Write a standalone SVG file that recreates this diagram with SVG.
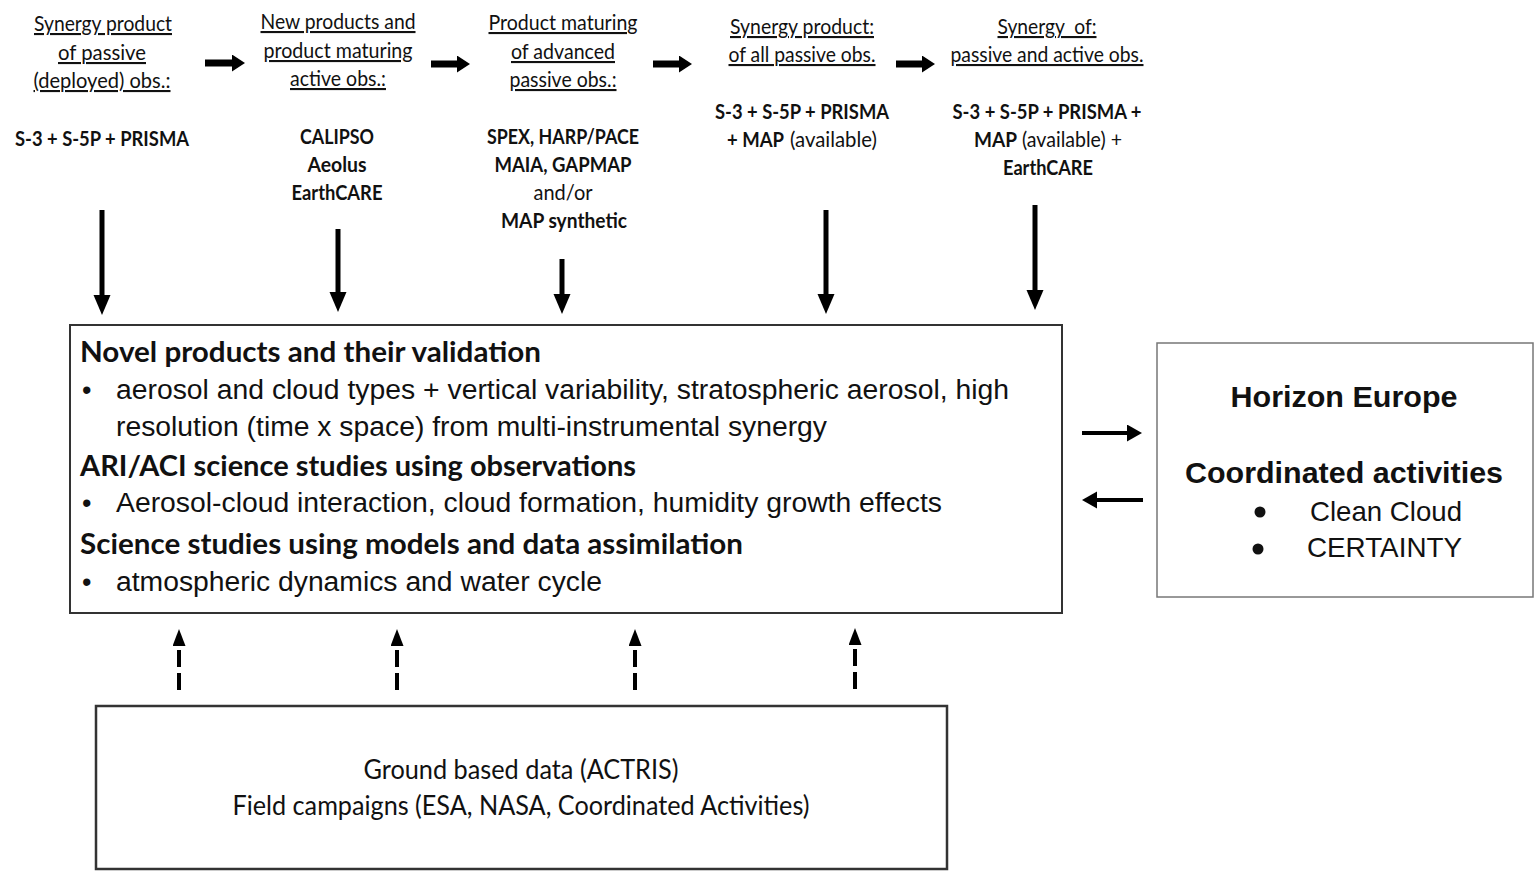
<svg xmlns="http://www.w3.org/2000/svg" width="1535" height="879" viewBox="0 0 1535 879">
<defs>
<style>
.c{font-family:Lato,"Open Sans","Liberation Sans",sans-serif;fill:#111;}
.cb{font-family:Lato,"Open Sans","Liberation Sans",sans-serif;fill:#111;font-weight:bold;}
.a{font-family:"Liberation Sans",Arial,sans-serif;fill:#111;}
.ab{font-family:"Liberation Sans",Arial,sans-serif;fill:#111;font-weight:bold;}
.u{text-decoration:underline;}
.hdr{font-size:21px;}
.box{fill:#fff;}
.ln{stroke:#000;fill:none;}
</style>
<marker id="hTop" markerUnits="userSpaceOnUse" markerWidth="14" markerHeight="18" refX="0" refY="8.5" orient="auto"><path d="M0,0 L13,8.5 L0,17 z" fill="#000"/></marker>
<marker id="hV" markerUnits="userSpaceOnUse" markerWidth="21" markerHeight="18" refX="0" refY="8.5" orient="auto"><path d="M0,0 L20,8.5 L0,17 z" fill="#000"/></marker>
<marker id="hS" markerUnits="userSpaceOnUse" markerWidth="16" markerHeight="18" refX="0" refY="8.5" orient="auto"><path d="M0,0 L15,8.5 L0,17 z" fill="#000"/></marker>
<marker id="hD" markerUnits="userSpaceOnUse" markerWidth="18" markerHeight="14" refX="0" refY="6.5" orient="auto"><path d="M0,0 L17,6.5 L0,13 z" fill="#000"/></marker>
</defs>
<rect width="1535" height="879" fill="#fff"/>

<g id="col1">
<text class="c hdr u" x="103" y="31" text-anchor="middle" textLength="138" lengthAdjust="spacingAndGlyphs">Synergy product</text>
<text class="c hdr u" x="102" y="60" text-anchor="middle" textLength="88" lengthAdjust="spacingAndGlyphs"> of passive</text>
<text class="c hdr u" x="102" y="88" text-anchor="middle" textLength="137" lengthAdjust="spacingAndGlyphs">(deployed) obs.:</text>
<text class="cb hdr" x="102" y="146" text-anchor="middle" textLength="174" lengthAdjust="spacingAndGlyphs">S-3 + S-5P + PRISMA</text>
</g>

<g id="col2">
<text class="c hdr u" x="338" y="29" text-anchor="middle" textLength="155" lengthAdjust="spacingAndGlyphs">New products and</text>
<text class="c hdr u" x="338" y="58" text-anchor="middle" textLength="149" lengthAdjust="spacingAndGlyphs">product maturing</text>
<text class="c hdr u" x="338" y="86" text-anchor="middle" textLength="96" lengthAdjust="spacingAndGlyphs">active obs.:</text>
<text class="cb hdr" x="337" y="144" text-anchor="middle" textLength="74" lengthAdjust="spacingAndGlyphs">CALIPSO</text>
<text class="cb hdr" x="337" y="172" text-anchor="middle" textLength="59" lengthAdjust="spacingAndGlyphs">Aeolus</text>
<text class="cb hdr" x="337" y="200" text-anchor="middle" textLength="91" lengthAdjust="spacingAndGlyphs">EarthCARE</text>
</g>

<g id="col3">
<text class="c hdr u" x="563" y="30" text-anchor="middle" textLength="149" lengthAdjust="spacingAndGlyphs">Product maturing</text>
<text class="c hdr u" x="563" y="59" text-anchor="middle" textLength="104" lengthAdjust="spacingAndGlyphs">of advanced</text>
<text class="c hdr u" x="563" y="87" text-anchor="middle" textLength="107" lengthAdjust="spacingAndGlyphs">passive obs.:</text>
<text class="cb hdr" x="563" y="144" text-anchor="middle" textLength="152" lengthAdjust="spacingAndGlyphs">SPEX, HARP/PACE</text>
<text class="cb hdr" x="563" y="172" text-anchor="middle" textLength="137" lengthAdjust="spacingAndGlyphs">MAIA, GAPMAP</text>
<text class="c hdr" x="563" y="200" text-anchor="middle" textLength="59" lengthAdjust="spacingAndGlyphs">and/or</text>
<text class="cb hdr" x="564" y="228" text-anchor="middle" textLength="126" lengthAdjust="spacingAndGlyphs">MAP synthetic</text>
</g>

<g id="col4">
<text class="c hdr u" x="802" y="34" text-anchor="middle" textLength="144" lengthAdjust="spacingAndGlyphs">Synergy product:</text>
<text class="c hdr u" x="802" y="62" text-anchor="middle" textLength="147" lengthAdjust="spacingAndGlyphs">of all passive obs.</text>
<text class="cb hdr" x="802" y="119" text-anchor="middle" textLength="174" lengthAdjust="spacingAndGlyphs">S-3 + S-5P + PRISMA</text>
<text class="cb hdr" x="727" y="147" textLength="57" lengthAdjust="spacingAndGlyphs">+ MAP</text>
<text class="c hdr" x="790" y="147" textLength="87" lengthAdjust="spacingAndGlyphs">(available)</text>
</g>

<g id="col5">
<text class="c hdr u" x="1047" y="34" text-anchor="middle" textLength="99" lengthAdjust="spacingAndGlyphs" xml:space="preserve">Synergy  of:</text>
<text class="c hdr u" x="1047" y="62" text-anchor="middle" textLength="193" lengthAdjust="spacingAndGlyphs">passive and active obs.</text>
<text class="cb hdr" x="1047" y="119" text-anchor="middle" textLength="189" lengthAdjust="spacingAndGlyphs">S-3 + S-5P + PRISMA +</text>
<text class="cb hdr" x="974" y="147" textLength="43" lengthAdjust="spacingAndGlyphs">MAP</text>
<text class="c hdr" x="1022" y="147" textLength="100" lengthAdjust="spacingAndGlyphs">(available) +</text>
<text class="cb hdr" x="1048" y="175" text-anchor="middle" textLength="90" lengthAdjust="spacingAndGlyphs">EarthCARE</text>
</g>

<g id="main">
<rect class="box" x="70" y="325" width="992" height="288" stroke="#333" stroke-width="2"/>
<text class="cb" x="80" y="362" font-size="29" textLength="461" lengthAdjust="spacingAndGlyphs">Novel products and their validation</text>
<text class="a" x="82" y="399" font-size="27">•</text>
<text class="a" x="116" y="399" font-size="27" textLength="893" lengthAdjust="spacingAndGlyphs">aerosol and cloud types + vertical variability, stratospheric aerosol, high</text>
<text class="a" x="116" y="436" font-size="27" textLength="711" lengthAdjust="spacingAndGlyphs">resolution (time x space) from multi-instrumental synergy</text>
<text class="cb" x="80" y="476" font-size="29" textLength="556" lengthAdjust="spacingAndGlyphs">ARI/ACI science studies using observations</text>
<text class="a" x="82" y="512" font-size="27">•</text>
<text class="a" x="116" y="512" font-size="27" textLength="826" lengthAdjust="spacingAndGlyphs">Aerosol-cloud interaction, cloud formation, humidity growth effects</text>
<text class="cb" x="80" y="554" font-size="29" textLength="663" lengthAdjust="spacingAndGlyphs">Science studies using models and data assimilation</text>
<text class="a" x="82" y="591" font-size="27">•</text>
<text class="a" x="116" y="591" font-size="27" textLength="486" lengthAdjust="spacingAndGlyphs">atmospheric dynamics and water cycle</text>
</g>

<g id="horizon">
<rect class="box" x="1157" y="343" width="376" height="254" stroke="#777" stroke-width="1.5"/>
<text class="ab" x="1344" y="407" font-size="30" text-anchor="middle" textLength="227" lengthAdjust="spacingAndGlyphs">Horizon Europe</text>
<text class="ab" x="1344" y="483" font-size="30" text-anchor="middle" textLength="318" lengthAdjust="spacingAndGlyphs">Coordinated activities</text>
<circle cx="1260" cy="512" r="5.5" fill="#111"/>
<text class="a" x="1310" y="521" font-size="27.5" textLength="152" lengthAdjust="spacingAndGlyphs">Clean Cloud</text>
<circle cx="1258" cy="549" r="5.5" fill="#111"/>
<text class="a" x="1307" y="557" font-size="27.5" textLength="155" lengthAdjust="spacingAndGlyphs">CERTAINTY</text>
</g>

<g id="ground">
<rect class="box" x="96" y="706" width="851" height="163" stroke="#333" stroke-width="2.5"/>
<text class="c" x="521" y="779" font-size="27" text-anchor="middle" textLength="315" lengthAdjust="spacingAndGlyphs" fill="#222">Ground based data (ACTRIS)</text>
<text class="c" x="521" y="815" font-size="27" text-anchor="middle" textLength="577" lengthAdjust="spacingAndGlyphs" fill="#222">Field campaigns (ESA, NASA, Coordinated Activities)</text>
</g>

<g id="connectors">
<line class="ln" x1="205" y1="63" x2="232" y2="63" stroke-width="7" marker-end="url(#hTop)"/>
<line class="ln" x1="431" y1="64" x2="457" y2="64" stroke-width="7" marker-end="url(#hTop)"/>
<line class="ln" x1="653" y1="64" x2="679" y2="64" stroke-width="7" marker-end="url(#hTop)"/>
<line class="ln" x1="896" y1="64" x2="922" y2="64" stroke-width="7" marker-end="url(#hTop)"/>

<line class="ln" x1="102" y1="210" x2="102" y2="295" stroke-width="5" marker-end="url(#hV)"/>
<line class="ln" x1="338" y1="229" x2="338" y2="292" stroke-width="5" marker-end="url(#hV)"/>
<line class="ln" x1="562" y1="259" x2="562" y2="294" stroke-width="5" marker-end="url(#hV)"/>
<line class="ln" x1="826" y1="210" x2="826" y2="294" stroke-width="5" marker-end="url(#hV)"/>
<line class="ln" x1="1035" y1="205" x2="1035" y2="290" stroke-width="5" marker-end="url(#hV)"/>

<line class="ln" x1="1082" y1="433" x2="1127" y2="433" stroke-width="4" marker-end="url(#hS)"/>
<line class="ln" x1="1143" y1="500" x2="1097" y2="500" stroke-width="4" marker-end="url(#hS)"/>

<line class="ln" x1="179" y1="690" x2="179" y2="646" stroke-width="4" stroke-dasharray="17 6" marker-end="url(#hD)"/>
<line class="ln" x1="397" y1="690" x2="397" y2="646" stroke-width="4" stroke-dasharray="17 6" marker-end="url(#hD)"/>
<line class="ln" x1="635" y1="690" x2="635" y2="646" stroke-width="4" stroke-dasharray="17 6" marker-end="url(#hD)"/>
<line class="ln" x1="855" y1="689" x2="855" y2="645" stroke-width="4" stroke-dasharray="17 6" marker-end="url(#hD)"/>
</g>
</svg>
